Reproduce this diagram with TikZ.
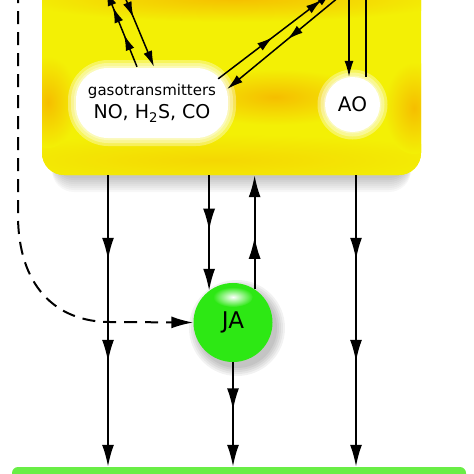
\documentclass[tikz,border=0pt]{standalone}
\usepackage{fontspec}
\setmainfont{DejaVu Sans}
\usetikzlibrary{arrows.meta,decorations.markings,calc}

\definecolor{cellyellow}{RGB}{243,240,5}
\definecolor{bandorange}{RGB}{245,190,0}
\definecolor{jagreen}{RGB}{45,232,20}
\definecolor{bargreen}{RGB}{105,238,70}

\tikzset{
  flow/.style={line width=2pt, -{Latex[length=22pt,width=12pt]}},
  thinflow/.style={line width=1.5pt, -{Latex[length=16pt,width=9pt]}},
  midtip/.style={postaction={decorate,decoration={markings,
      mark=at position #1 with {\arrow{Latex[length=22pt,width=12pt]}}}}},
  smalltip/.style={postaction={decorate,decoration={markings,
      mark=at position #1 with {\arrow{Latex[length=16pt,width=9pt]}}}}},
  dashline/.style={line width=2pt, dash pattern=on 13pt off 8pt},
}

\begin{document}
\begin{tikzpicture}[x=1pt,y=-1pt]
  \useasboundingbox (0,0) rectangle (474,474);
  \clip (0,0) rectangle (474,474);

  % shadow under the cell
  \foreach \s in {2,4,...,16}
    \fill[black,opacity=.03,rounded corners=22pt] (52,-40) rectangle (411,176+\s);

  % the cell
  \node[rectangle,rounded corners=22pt,fill=cellyellow,inner sep=0pt,
        minimum width=379pt,minimum height=216pt] (cell) at (231.5,67) {};
  \begin{scope}
    \clip[rounded corners=22pt] (42,-41) rectangle (421,175);
    \shade[inner color=bandorange!50!cellyellow,outer color=cellyellow] (215,160) ellipse (260 and 26);
    \shade[inner color=bandorange,outer color=cellyellow] (235,-2) ellipse (220 and 24);
    \shade[inner color=bandorange,outer color=cellyellow] (48,102) ellipse (30 and 46);
    \shade[inner color=bandorange,outer color=cellyellow] (414,108) ellipse (30 and 46);
    \shade[inner color=bandorange,outer color=cellyellow] (275,97) ellipse (95 and 28);
  \end{scope}

  % glows
  \foreach \g [evaluate=\g as \r using 32+\g] in {8,5,2}
    \fill[white,opacity=.35,rounded corners=\r pt] (76-\g,68-\g) rectangle (228+\g,138+\g);
  \foreach \g in {8,5,2}
    \fill[white,opacity=.35] (352.5,104.5) circle (27+\g);

  % shadow of JA
  \foreach \s in {40,42,...,48}
    \fill[black,opacity=.05] (237,328) circle (\s);

  % nodes
  \node[rectangle,rounded corners=32pt,fill=white,inner sep=0pt,align=center,
        minimum width=152pt,minimum height=70pt] (gas) at (152,103)
        {{\fontsize{15}{16}\selectfont gasotransmitters}\\[5pt]
         {\fontsize{19}{20}\selectfont NO, H\textsubscript{2}S, CO}};
  \node[circle,fill=white,inner sep=0pt,minimum size=55pt,
        font=\fontsize{20}{22}\selectfont] (ao) at (352.5,104.5) {AO};
  \node[circle,fill=jagreen,inner sep=0pt,minimum size=79pt,
        font=\fontsize{23}{24}\selectfont] (ja) at (233,322.5) {JA};
  \shade[inner color=white,outer color=jagreen] (233,297) ellipse (20 and 10);
  \node[rectangle,rounded corners=6pt,fill=bargreen,inner sep=0pt,
        minimum width=454pt,minimum height=30pt] (bar) at (239,482) {};

  % free ends above the picture
  \coordinate (t1) at (106,-10);
  \coordinate (t2) at (122,-10);
  \coordinate (t3) at (332,-8);
  \coordinate (t4) at (345,-8);
  \coordinate (t5) at (349,-10);
  \coordinate (t6) at (366,-10);
  \coordinate (d0) at (18,-10);
  \coordinate (x1) at (108,0);
  \coordinate (x4) at (356,0);

  % inside the cell
  \draw[thinflow,smalltip=.42,smalltip=.78] ($(gas.north)+(-15,-1)$) -- (t1);
  \draw[thinflow,smalltip=.36] (t2) -- ($(gas.north)+(2,-1)$);
  \draw[thinflow,smalltip=.48,smalltip=.91] ($(gas.north east)+(-10,11)$) -- (t3);
  \draw[thinflow,smalltip=.49] (t4) -- ($(gas.east)+(-1,-14)$);
  \draw[thinflow] (t5) -- (ao.north -| t5);
  \draw[line width=1.5pt] (ao.north -| t6) -- (t6);

  % below the cell
  \draw[flow,midtip=.29,midtip=.64] (cell.south -| x1) -- (bar.north -| x1);
  \draw[flow,midtip=.29,midtip=.64] (cell.south -| x4) -- (bar.north -| x4);
  \draw[flow,midtip=.48] (cell.south -| ja.127) -- (ja.127);
  \draw[flow,midtip=.46] (ja.57) -- (cell.south -| ja.57);
  \draw[flow,midtip=.46] (ja.south) -- (bar.north -| ja.south);
  \draw[dashline,-{Latex[length=22pt,width=12pt]}] (d0) -- (18,215)
    .. controls (18,285) and (55,322) .. (110,322) -- (ja.west);
\end{tikzpicture}
\end{document}
